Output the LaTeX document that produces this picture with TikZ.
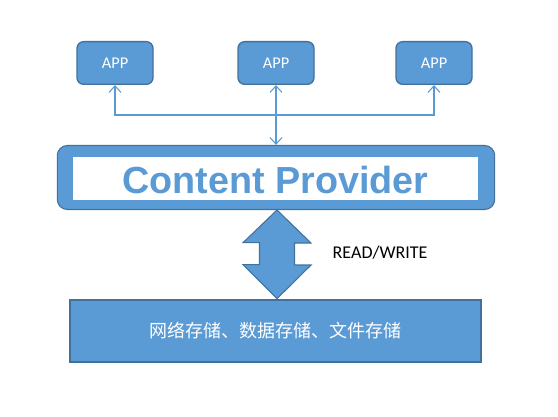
\documentclass[tikz,border=0pt]{standalone}
\usepackage{fontspec}
\setmainfont{Carlito}
\newfontfamily\cpfont{Liberation Sans}
\newfontfamily\cjk{Noto Sans CJK SC}
\usetikzlibrary{arrows.meta,calc}

\definecolor{boxblue}{HTML}{5B9BD5}
\definecolor{edgeblue}{HTML}{41719C}

\begin{document}
\begin{tikzpicture}[x=0.75pt,y=-0.75pt,
	appbox/.style={draw=edgeblue,fill=boxblue,line width=1pt,rounded corners=5pt,
		minimum width=57pt,minimum height=32pt,inner sep=0pt,text=white,
		font=\fontsize{12.3}{14}\selectfont},
	link/.style={draw=boxblue,line width=0.8pt,>={Straight Barb[length=5pt,width=9pt]}}]
	\useasboundingbox (0,0) rectangle (558,417);

	% the three apps
	\foreach \i/\x in {1/115,2/276,3/434}
	{
		\node[appbox] (app\i) at (\x,63) {APP};
	}

	% provider
	\node[draw=edgeblue,fill=boxblue,line width=0.8pt,rounded corners=7.5pt,
		minimum width=328pt,minimum height=48pt,inner sep=0pt] (cp) at (276,177.5) {};
	\node[fill=white,minimum width=304pt,minimum height=32pt,inner sep=0pt,
		text height=23pt,text depth=0pt,
		text=boxblue,font=\cpfont\bfseries\fontsize{28.3}{32}\selectfont] (cptext) at (275.5,178.5) {Content Provider};

	% storage
	\node[draw=edgeblue,fill=boxblue,line width=1.5pt,minimum width=308pt,minimum height=47pt,
		inner sep=0pt,text=white,font=\cjk\fontsize{13.5}{16}\selectfont] (store) at (275.5,331) {网络存储、数据存储、文件存储};

	% links between apps and provider
	\coordinate (bus) at (app2.south |- 0,115);
	\draw[link,<->] (app2.south) -- (cp.north);
	\draw[link,->] (bus) -| (app1.south);
	\draw[link,->] (bus) -| (app3.south);

	% read/write block arrow
	\coordinate (ta) at ($(cp.south)+(1,0)$);
	\coordinate (tb) at (ta |- store.north);
	\filldraw[draw=edgeblue,fill=boxblue,line width=0.8pt,line join=miter]
		(ta) -- ++(34,33) -- ++(-16.5,0) -- ++(0,22) -- ++(16.5,0) -- (tb)
		-- ++(-34,-34) -- ++(16.5,0) -- ++(0,-22) -- ++(-16.5,0) -- cycle;
	\node[font=\fontsize{13.5}{16}\selectfont,anchor=west] (rw) at (328,253) {READ/WRITE};
\end{tikzpicture}
\end{document}
